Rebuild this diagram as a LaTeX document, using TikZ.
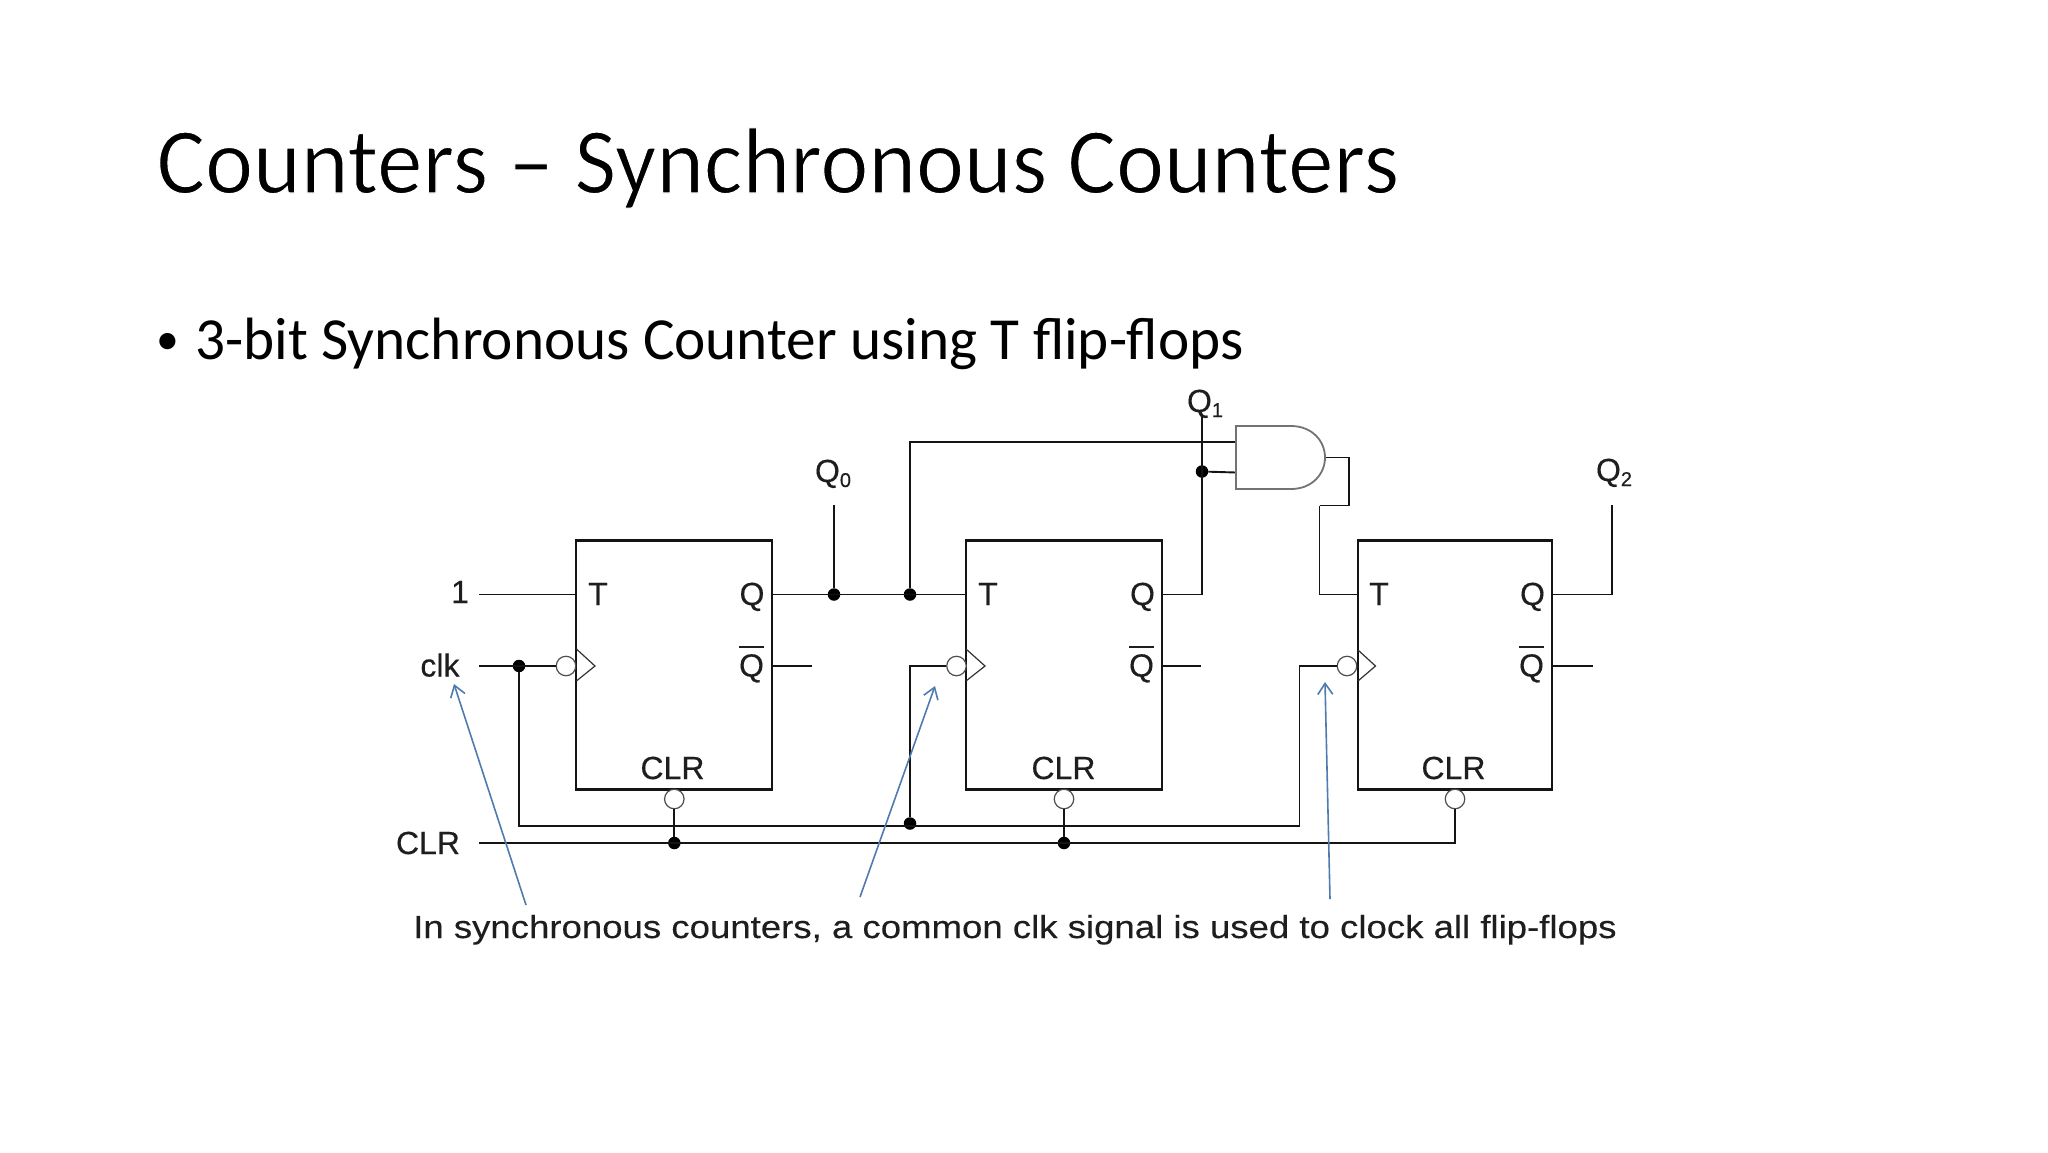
\documentclass[tikz,border=0pt]{standalone}
\usepackage{fontspec}
\usetikzlibrary{arrows.meta}
\setmainfont[FakeBold=0.25]{Liberation Sans}
\newfontfamily\titlefont[FakeStretch=0.968]{Carlito}
\newfontfamily\bodyfont[FakeStretch=0.993]{Carlito}
\newfontfamily\notefont[FakeStretch=1.143,FakeBold=0.25]{Liberation Sans}
\definecolor{wire}{HTML}{141414}
\definecolor{inktext}{HTML}{1E1E1E}
\definecolor{callout}{HTML}{4F7BB0}
\newcommand{\notQ}{\leavevmode\vbox{\hrule height 1.8pt\kern 6pt\hbox{Q}}}
\newcommand{\subQ}[1]{Q\raisebox{-5pt}{\fontsize{20}{20}\selectfont #1}}
\tikzset{
  wireline/.style={draw=wire,line width=1.9pt},
  ffbox/.style={draw=wire,line width=2.1pt,fill=white,minimum height=249pt,inner sep=0pt},
  dotnode/.style={circle,fill=black,inner sep=0pt,minimum size=12.5pt},
  bubble/.style={circle,draw=black!70,line width=1.2pt,fill=white,inner sep=0pt,minimum size=19.5pt},
  clockmark/.style={draw=black!80,line width=1.2pt},
  gateline/.style={draw=black!55,line width=1.8pt,fill=white},
  lab/.style={text=inktext,font=\fontsize{32}{32}\selectfont,anchor=base,inner sep=0pt},
  calloutarrow/.style={draw=callout,line width=1.6pt,-{Straight Barb[length=11pt,width=15pt,line width=1.6pt]}},
}
\begin{document}
\begin{tikzpicture}[x=1pt,y=-1pt]
\useasboundingbox (0,0) rectangle (2048,1152);
\fill[white] (0,0) rectangle (2048,1152);

% slide text
\node[anchor=base west,inner sep=0pt,text=black,font=\titlefont\fontsize{93.9}{94}\selectfont] (title) at (156.5,193) {\special{pdf:code 2 Tr 1 1 1 RG 1.1 w}Counters – Synchronous Counters\special{pdf:code 0 Tr 0 0 0 RG 1 w}};
\node[anchor=base west,inner sep=0pt,text=black,font=\bodyfont\fontsize{46}{46}\selectfont] (bulletmark) at (156,354) {•};
\node[anchor=base west,inner sep=0pt,text=black,font=\bodyfont\fontsize{59.7}{60}\selectfont] (bullettext) at (195,359) {3-bit Synchronous Counter using T flip-flops};

% flip-flop bodies
\node[ffbox,minimum width=196pt] (ff1) at (674.3,665) {};
\node[ffbox,minimum width=196pt] (ff2) at (1064,665) {};
\node[ffbox,minimum width=194pt] (ff3) at (1455,665) {};

% named points: rails and stubs
\coordinate (oneIn) at (479,594.5);
\coordinate (clkIn) at (479,666);
\coordinate (clrIn) at (479,843);
\coordinate (t1) at (ff1.west |- oneIn);
\coordinate (t2) at (ff2.west |- oneIn);
\coordinate (t3) at (ff3.west |- oneIn);
\coordinate (q1) at (ff1.east |- oneIn);
\coordinate (q2) at (ff2.east |- oneIn);
\coordinate (q3) at (ff3.east |- oneIn);
\coordinate (nq1) at (ff1.east |- clkIn);
\coordinate (nq2) at (ff2.east |- clkIn);
\coordinate (nq3) at (ff3.east |- clkIn);
\coordinate (nq1end) at (811.5,666);
\coordinate (nq2end) at (1201,666);
\coordinate (nq3end) at (1593,666);
\coordinate (q0top) at (834,505);
\coordinate (q1top) at (1202,417);
\coordinate (q1low) at (1202,594.5);
\coordinate (q2top) at (1612,505);
\coordinate (q2low) at (1612,594.5);
\coordinate (crossTop) at (910,442);
\coordinate (gateIn1) at (1236,442);
\coordinate (gateIn2) at (1236,472.5);
\coordinate (gateOut) at (1325,457.5);
\coordinate (gateR) at (1349,457.5);
\coordinate (gateD) at (1349,505.5);
\coordinate (gateL) at (1319.5,505.5);
\coordinate (gateB) at (1319.5,594.5);
\coordinate (clkBusL) at (519,826);
\coordinate (clkBusR) at (1299.5,826);
\coordinate (clkBusU) at (1299.5,666);
\coordinate (clkTwoU) at (910,666);
\coordinate (clrEndB) at (1455,843);

% junctions
\node[dotnode] (jq0) at (834,594.5) {};
\node[dotnode] (jq0b) at (910,594.5) {};
\node[dotnode] (jclk) at (519,666) {};
\node[dotnode] (jclk2) at (910,823.5) {};
\node[dotnode] (jclr1) at (674.3,843) {};
\node[dotnode] (jclr2) at (1064,843) {};
\node[dotnode] (jq1) at (1202,471.5) {};

% bubbles
\node[bubble] (ck1) at (566,666) {};
\node[bubble] (ck2) at (956.5,666) {};
\node[bubble] (ck3) at (1347,666) {};
\node[bubble] (cl1) at (674.3,799) {};
\node[bubble] (cl2) at (1064,799) {};
\node[bubble] (cl3) at (1455,799) {};

% wires
\draw[wireline] (oneIn) -- (t1);
\draw[wireline] (q1) -- (t2);
\draw[wireline] (q2) -- (q1low) -- (q1top);
\draw[wireline] (gateL) -- (gateB) -- (t3);
\draw[wireline] (gateOut) -- (gateR) -- (gateD) -- (gateL);
\draw[wireline] (q3) -- (q2low) -- (q2top);
\draw[wireline] (jq0) -- (q0top);
\draw[wireline] (jq0b) -- (crossTop) -- (gateIn1);
\draw[wireline] (jq1) -- (gateIn2);
\draw[wireline] (nq1) -- (nq1end);
\draw[wireline] (nq2) -- (nq2end);
\draw[wireline] (nq3) -- (nq3end);
\draw[wireline] (clkIn) -- (ck1);
\draw[wireline] (jclk) -- (clkBusL) -- (clkBusR) -- (clkBusU) -- (ck3);
\draw[wireline] (jclk2) -- (clkTwoU) -- (ck2);
\draw[wireline] (clrIn) -- (clrEndB) -- (cl3);
\draw[wireline] (jclr1) -- (cl1);
\draw[wireline] (jclr2) -- (cl2);

% clock triangles
\draw[clockmark] (576.4,649) -- (595,666) -- (576.4,681);
\draw[clockmark] (966,649) -- (985,666) -- (966,681);
\draw[clockmark] (1358,650) -- (1375.5,666) -- (1358,681);

% AND gate
\draw[gateline] (1236,426) -- (1291,426) .. controls (1312,426) and (1325,441) .. (1325,457.5) .. controls (1325,474) and (1312,489) .. (1291,489) -- (1236,489) -- cycle;

% labels in the flip-flops
\node[lab] (lt1) at (598,605) {T};
\node[lab] (lt2) at (988,605) {T};
\node[lab] (lt3) at (1379,605) {T};
\node[lab] (lq1) at (752,605) {Q};
\node[lab] (lq2) at (1142.5,605) {Q};
\node[lab] (lq3) at (1532.5,605) {Q};
\node[lab] (lnq1) at (751.5,676.5) {\notQ};
\node[lab] (lnq2) at (1141.5,676.5) {\notQ};
\node[lab] (lnq3) at (1531.5,676.5) {\notQ};
\node[lab] (lc1) at (672.5,779) {CLR};
\node[lab] (lc2) at (1063.5,779) {CLR};
\node[lab] (lc3) at (1453.5,779) {CLR};

% outer labels
\node[lab] (lone) at (460,603) {1};
\node[lab] (lclk) at (440,676.5) {clk};
\node[lab] (lclr) at (428,854) {CLR};
\node[lab] (lq0out) at (833,482) {\subQ{0}};
\node[lab] (lq1out) at (1205,412) {\subQ{1}};
\node[lab] (lq2out) at (1614,481) {\subQ{2}};
\node[lab,anchor=base west,font=\notefont\fontsize{32}{32}\selectfont] (caption) at (413,938) {In synchronous counters, a common clk signal is used to clock all flip-flops};

% callouts
\coordinate (a1s) at (526,905);
\coordinate (a1e) at (454,684);
\coordinate (a2s) at (860,897);
\coordinate (a2e) at (935,686);
\coordinate (a3s) at (1330,899);
\coordinate (a3e) at (1325,682);
\draw[calloutarrow] (a1s) -- (a1e);
\draw[calloutarrow] (a2s) -- (a2e);
\draw[calloutarrow] (a3s) -- (a3e);
\end{tikzpicture}
\end{document}
